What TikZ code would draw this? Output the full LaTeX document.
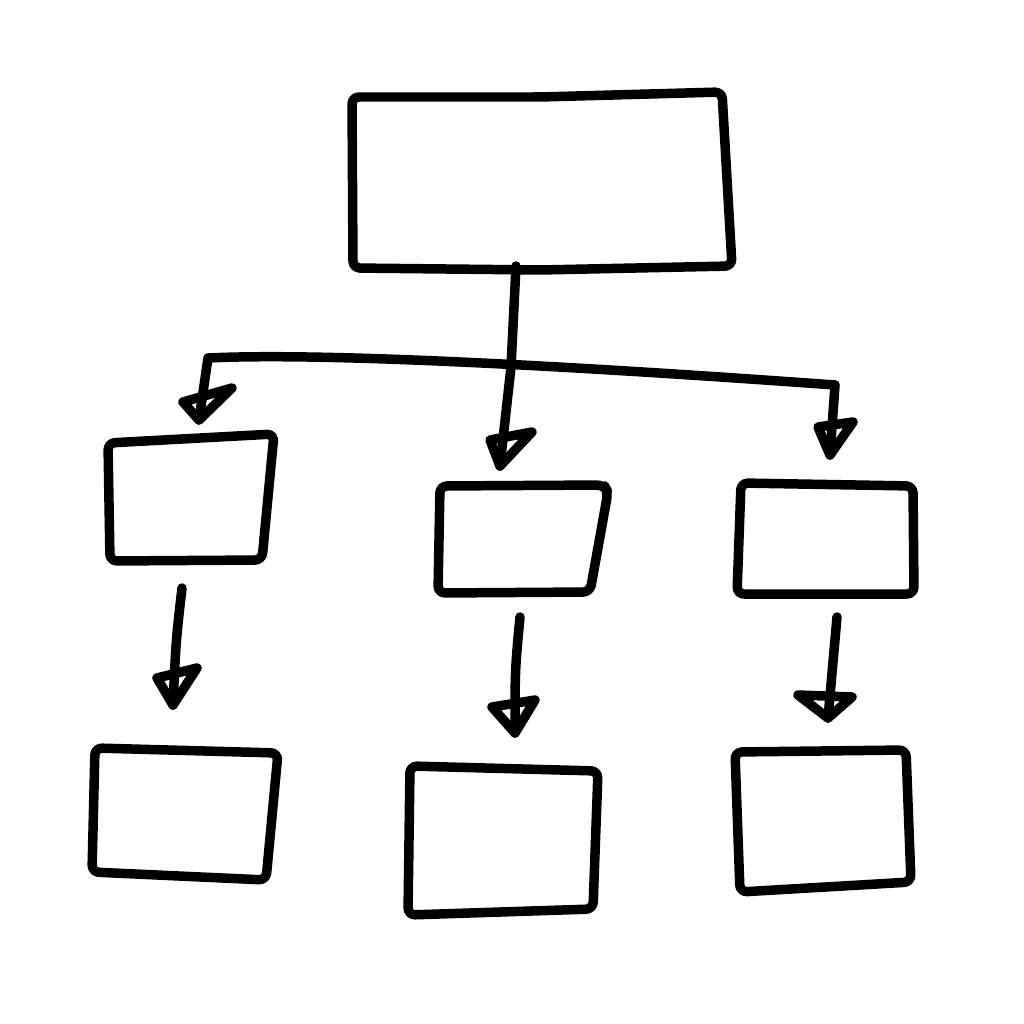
\documentclass[tikz,border=0pt]{standalone}
\begin{document}
\begin{tikzpicture}[x=0.01cm,y=-0.01cm,
  ink/.style={line width=2.7pt,line cap=round,line join=round,black},
  handbox/.style={ink,rounded corners=2pt}]
\useasboundingbox (0,0) rectangle (1024,1024);
% boxes (hand drawn)
\draw[handbox] (352,97) -- (540,97) -- (722,92) -- (732,266) -- (540,270) -- (353,268) -- cycle;
\draw[handbox] (108,443) -- (274,434) -- (262,560) -- (110,561) -- cycle;
\draw[handbox] (440,486) -- (604,485) -- (608,492) -- (590,592) -- (438,593) -- cycle;
\draw[handbox] (741,483) -- (913,486) -- (914,594) -- (737,594) -- cycle;
\draw[handbox] (95,748) -- (278,753) -- (266,880) -- (92,872) -- cycle;
\draw[handbox] (410,766) -- (598,771) -- (593,909) -- (408,915) -- cycle;
\draw[handbox] (735,752) -- (906,750) -- (911,882) -- (740,892) -- cycle;
% connector points
\coordinate (top) at (516,266);
\coordinate (jn) at (511,367);
\coordinate (bl) at (208,358);
\coordinate (br) at (835,385);
% trunk and bar
\draw[ink] (top) -- (jn);
\draw[ink] (bl) .. controls (330,352) and (600,368) .. (br);
% arrow shafts
\draw[ink] (bl) -- (199,420);
\draw[ink] (jn) -- (500,466);
\draw[ink] (br) -- (830,455);
\draw[ink] (182,588) .. controls (176,640) .. (173,705);
\draw[ink] (520,617) .. controls (515,670) .. (515,733);
\draw[ink] (837,617) -- (828,718);
% open arrowheads
\draw[ink] (183,402) -- (232,388) -- (199,420) -- cycle;
\draw[ink] (490,440) -- (532,432) -- (500,466) -- cycle;
\draw[ink] (818,427) -- (853,422) -- (830,455) -- cycle;
\draw[ink] (157,678) -- (197,668) -- (173,705) -- cycle;
\draw[ink] (492,707) -- (535,700) -- (515,733) -- cycle;
\draw[ink] (798,695) -- (852,697) -- (828,718) -- cycle;
\end{tikzpicture}
\end{document}
